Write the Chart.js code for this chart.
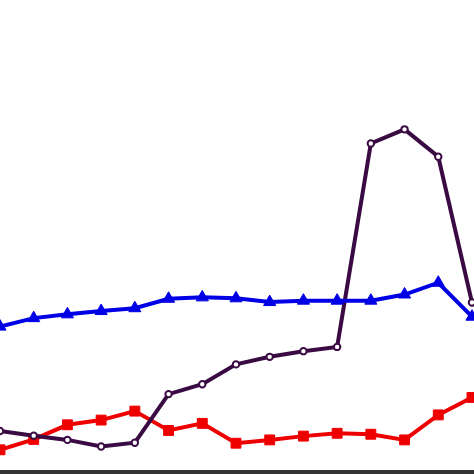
<!DOCTYPE html>
<html>
<head>
<meta charset="utf-8">
<script src="https://cdn.jsdelivr.net/npm/chart.js@4/dist/chart.umd.min.js"></script>
<style>
  html, body { margin: 0; padding: 0; background: #fff; }
  #wrap { width: 474px; height: 474px; }
</style>
</head>
<body>
<div id="wrap"><canvas id="lineChart"></canvas></div>
<script>
// Data (arbitrary units)
const steps = [0, 1, 2, 3, 4, 5, 6, 7, 8, 9, 10, 11, 12, 13, 14];
const blueValues = [30.8, 32.6, 33.4, 34.1, 34.7, 36.7, 37.0, 36.8, 36.0, 36.3, 36.3, 36.3, 37.6, 40.1, 32.9];
const purpleValues = [8.7, 7.7, 6.8, 5.4, 6.2, 16.5, 18.6, 22.8, 24.4, 25.6, 26.5, 69.6, 72.6, 66.8, 35.9];
const redValues = [4.7, 6.9, 10.0, 11.0, 12.9, 8.8, 10.3, 6.1, 6.8, 7.6, 8.2, 8.0, 6.8, 12.1, 15.8];

function toPoints(values) {
    return values.map((v, i) => ({ x: steps[i], y: v }));
}

const ctx = document.getElementById("lineChart").getContext("2d");

new Chart(ctx, {
    type: 'line',
    data: {
        datasets: [
            {
                label: 'blue',
                data: toPoints(blueValues),
                borderColor: '#0000e6',
                backgroundColor: '#0000e6',
                borderWidth: 4,
                pointStyle: 'triangle',
                pointRadius: 7,
                pointBorderWidth: 1,
                tension: 0
            },
            {
                label: 'purple',
                data: toPoints(purpleValues),
                borderColor: '#3a0a42',
                backgroundColor: '#ffffff',
                borderWidth: 4,
                pointStyle: 'circle',
                pointRadius: 3.2,
                pointBorderWidth: 2,
                pointBorderColor: '#3a0a42',
                tension: 0
            },
            {
                label: 'red',
                data: toPoints(redValues),
                borderColor: '#ee0000',
                backgroundColor: '#ee0000',
                borderWidth: 4,
                pointStyle: 'rect',
                pointRadius: 7,
                pointBorderWidth: 1,
                tension: 0
            }
        ]
    },
    options: {
        responsive: true,
        maintainAspectRatio: false,
        animation: false,
        layout: { padding: { top: 0, left: 0, right: 0, bottom: -6 }, autoPadding: false },
        plugins: {
            legend: { display: false },
            tooltip: { enabled: false }
        },
        scales: {
            x: {
                type: 'linear',
                min: 0,
                max: 14.06,
                ticks: { display: false },
                grid: { display: false },
                border: { display: true, color: '#333333', width: 4 }
            },
            y: {
                display: false,
                min: 0,
                max: 100
            }
        }
    }
});
</script>
</body>
</html>
